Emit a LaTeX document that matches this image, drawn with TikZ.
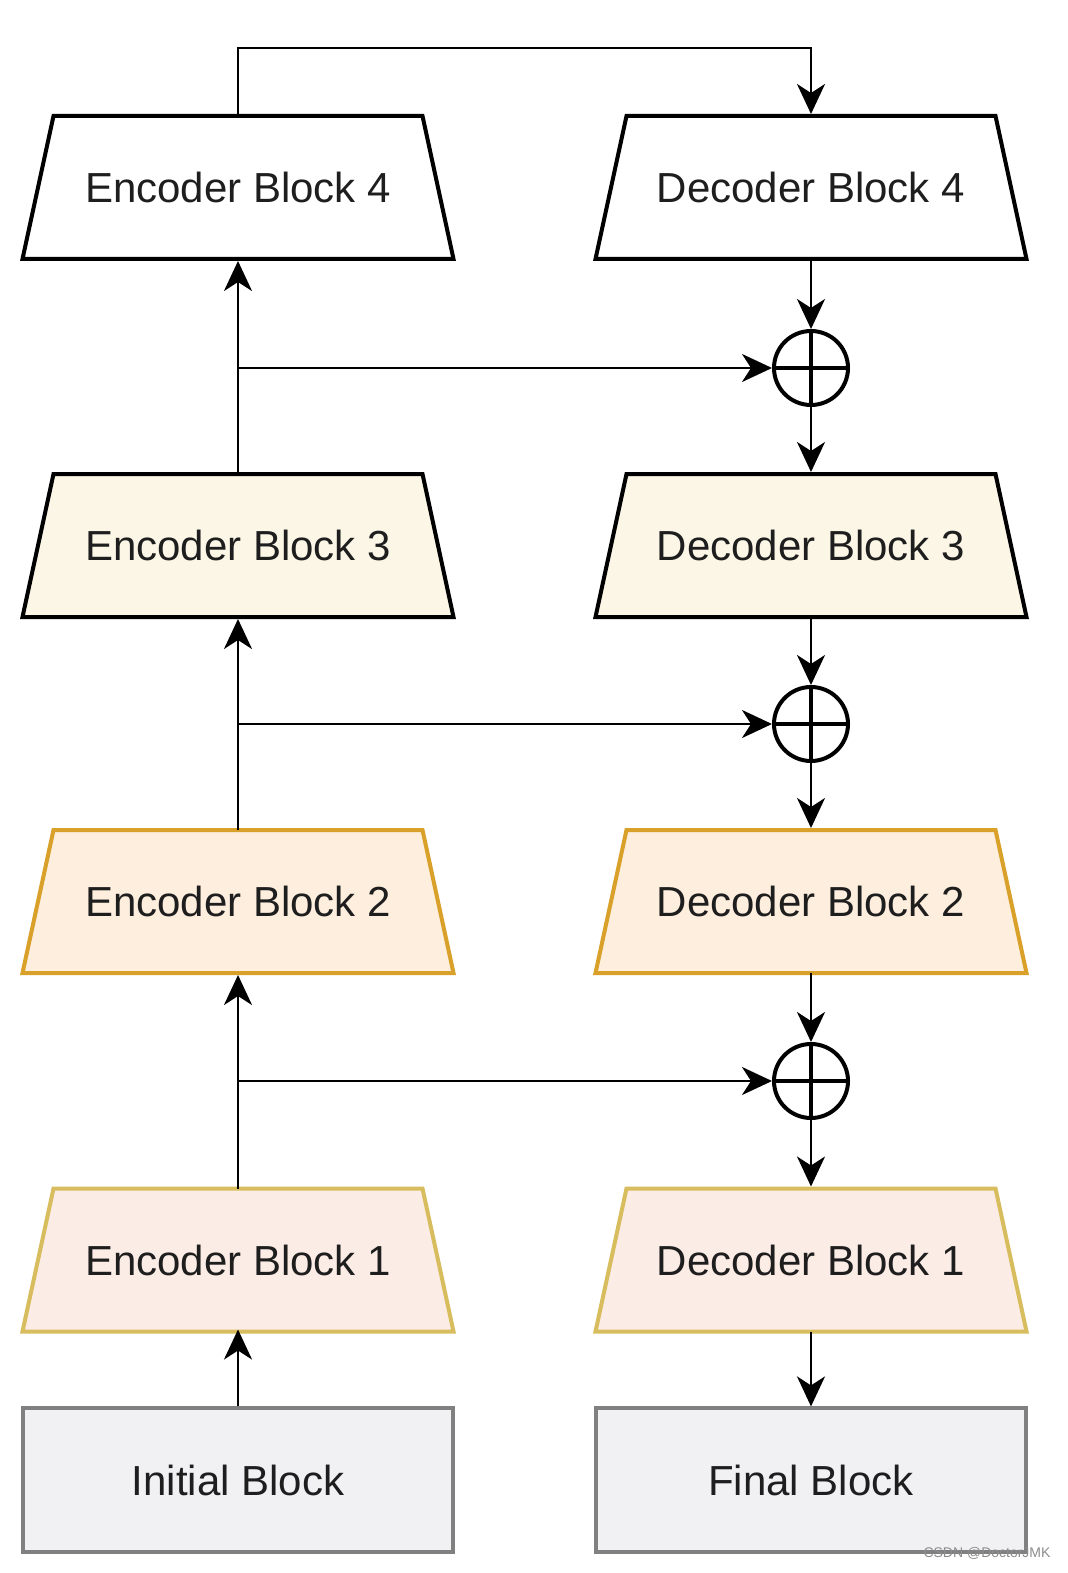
\documentclass[tikz,border=0pt]{standalone}
\usepackage{fontspec}
\setmainfont{Liberation Sans}
\usetikzlibrary{arrows.meta,backgrounds}
\definecolor{txt}{HTML}{1E1E1E}
\definecolor{fillfour}{HTML}{FFFFFF}
\definecolor{drawfour}{HTML}{000000}
\definecolor{fillthree}{HTML}{FCF6E7}
\definecolor{drawthree}{HTML}{000000}
\definecolor{filltwo}{HTML}{FDEEDE}
\definecolor{drawtwo}{HTML}{D9A02A}
\definecolor{fillone}{HTML}{FCECE6}
\definecolor{drawone}{HTML}{D8BD5E}
\definecolor{fillzero}{HTML}{F1F1F4}
\definecolor{drawzero}{HTML}{808080}
\tikzset{
  trap/.style={rectangle, minimum width=215.5pt, minimum height=71.5pt, inner sep=0pt, outer sep=0pt,
    text=txt, font=\fontsize{21pt}{25pt}\selectfont},
  trapline/.style={line width=2pt, line join=miter},
  endbox/.style={rectangle, minimum width=215pt, minimum height=72pt, inner sep=0pt, line width=1.6pt,
    draw=drawzero, fill=fillzero, text=txt, font=\fontsize{21pt}{25pt}\selectfont},
  addnode/.style={circle, minimum size=37pt, inner sep=0pt, line width=2pt, draw=black, fill=white},
  conn/.style={line width=1.3pt, draw=black, -{Stealth[length=15pt, width=14pt, inset=4.5pt]}},
}
\begin{document}
\begin{tikzpicture}[x=0.5pt,y=-0.5pt]
\useasboundingbox (0,0) rectangle (1068,1573);
% encoder column
\node[trap] (e4) at (238,187.5) {Encoder Block 4};
\node[trap] (e3) at (238,545.5) {Encoder Block 3};
\node[trap] (e2) at (238,901.5) {Encoder Block 2};
\node[trap] (e1) at (238,1260) {Encoder Block 1};
\node[endbox] (ini) at (238,1480) {Initial Block};
% decoder column
\node[trap] (d4) at (811,187.5) {Decoder Block 4};
\node[trap] (d3) at (811,545.5) {Decoder Block 3};
\node[trap] (d2) at (811,901.5) {Decoder Block 2};
\node[trap] (d1) at (811,1260) {Decoder Block 1};
\node[endbox] (fin) at (811,1480) {Final Block};
% trapezoid outlines behind the labels
\begin{scope}[on background layer]
\fill[white] (0,0) rectangle (1068,1573);
\foreach \n/\lv in {e4/four,e3/three,e2/two,e1/one,d4/four,d3/three,d2/two,d1/one}{
  \filldraw[trapline, fill=fill\lv, draw=draw\lv]
    ([xshift=15.5pt]\n.north west) -- ([xshift=-15.5pt]\n.north east)
    -- (\n.south east) -- (\n.south west) -- cycle;
}
\end{scope}
% add nodes
\node[addnode] (c1) at (811,368) {};
\node[addnode] (c2) at (811,724) {};
\node[addnode] (c3) at (811,1081) {};
\foreach \c in {c1,c2,c3}{
  \draw[line width=1.6pt] (\c.north) -- (\c.south);
  \draw[line width=1.6pt] (\c.west) -- (\c.east);
}
% encoder chain
\draw[conn] (ini.north) -- ([yshift=1pt]e1.south);
\draw[conn] (e1.north) -- ([yshift=-1pt]e2.south);
\draw[conn] (e2.north) -- ([yshift=-1pt]e3.south);
\draw[conn] (e3.north) -- ([yshift=-1pt]e4.south);
% skip connections
\coordinate (j1) at (e3.north |- c1.west);
\coordinate (j2) at (e2.north |- c2.west);
\coordinate (j3) at (e1.north |- c3.west);
\draw[conn] (j1) -- (c1.west);
\draw[conn] (j2) -- (c2.west);
\draw[conn] (j3) -- (c3.west);
\coordinate (tl) at (238,48);
\draw[conn] (e4.north) -- (tl) -| ([yshift=1pt]d4.north);
% decoder chain
\draw[conn] (d4.south) -- (c1.north);
\draw[conn] (c1.south) -- ([yshift=1pt]d3.north);
\draw[conn] (d3.south) -- (c2.north);
\draw[conn] (c2.south) -- ([yshift=1pt]d2.north);
\draw[conn] (d2.south) -- (c3.north);
\draw[conn] (c3.south) -- ([yshift=1pt]d1.north);
\draw[conn] (d1.south) -- (fin.north);
% watermark
\node[text=black!45, font=\fontsize{7pt}{8pt}\selectfont] (wm) at (987,1553) {CSDN @DoctorJMK};
\end{tikzpicture}
\end{document}
